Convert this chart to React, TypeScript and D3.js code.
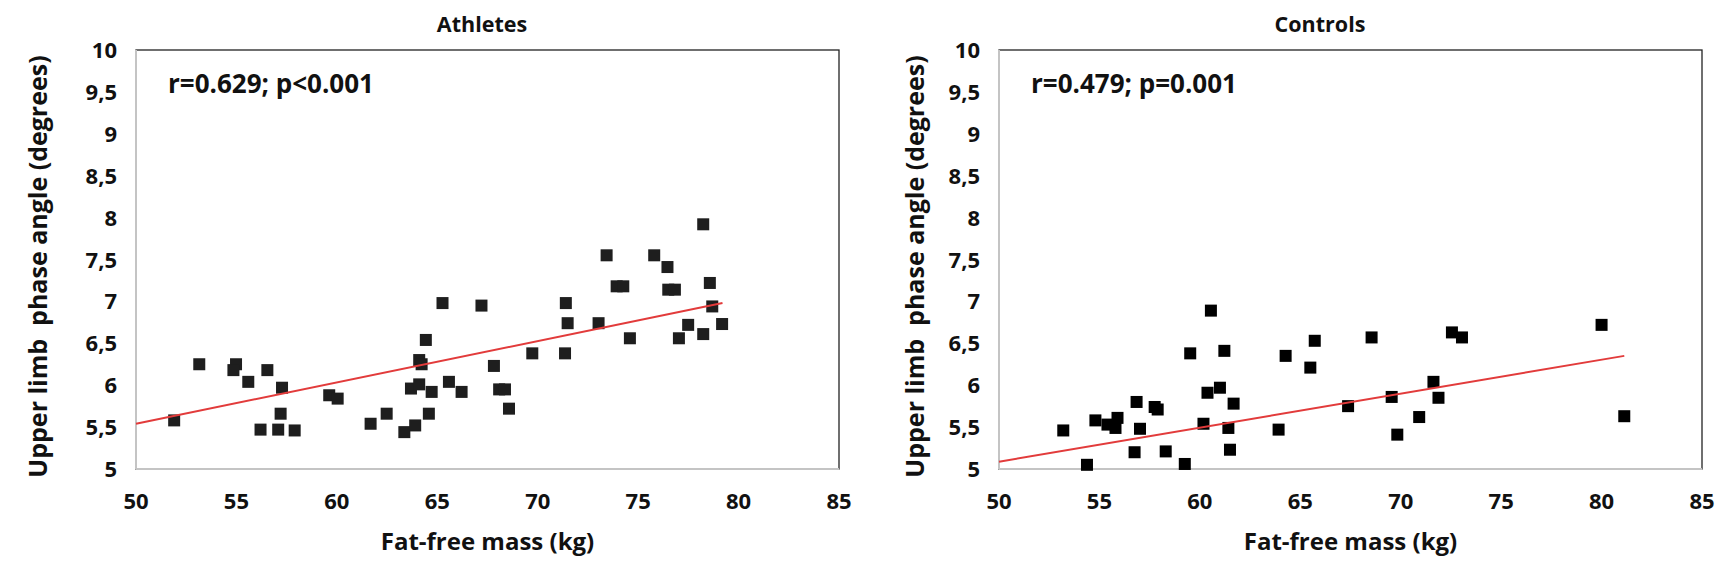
import { useMemo } from "react";
import * as d3 from "d3";

// values
const athletesFfm = [
  51.9, 53.15, 54.98, 54.85, 55.59, 56.54, 57.27, 57.2, 56.2, 57.08, 57.9, 59.62, 60.04,
  61.68, 62.48, 63.36, 63.9, 63.69, 64.1, 64.72, 64.58, 64.1, 64.22, 64.43, 65.26, 65.58,
  66.21, 67.2, 67.82, 68.08, 68.37, 68.57, 69.73, 71.36, 71.4, 71.49, 73.03, 73.43, 73.93,
  74.26, 74.59, 75.8, 76.46, 76.5, 76.83, 77.03, 77.49, 78.24, 78.57, 78.69, 78.24, 79.18,
];
const athletesPhase = [
  5.58, 6.25, 6.25, 6.18, 6.04, 6.18, 5.97, 5.66, 5.47, 5.47, 5.46, 5.88, 5.84,
  5.54, 5.66, 5.44, 5.52, 5.96, 6.01, 5.92, 5.66, 6.3, 6.25, 6.54, 6.98, 6.04,
  5.92, 6.95, 6.23, 5.95, 5.95, 5.72, 6.38, 6.38, 6.98, 6.74, 6.74, 7.55, 7.18,
  7.18, 6.56, 7.55, 7.41, 7.14, 7.14, 6.56, 6.72, 7.92, 7.22, 6.94, 6.61, 6.73,
];
const athletesTrend: [number, number][] = [
  [50, 5.54],
  [79.2, 6.98],
];

const controlsFfm = [
  53.2, 54.38, 54.8, 55.4, 55.9, 55.8, 56.85, 57.02, 56.75, 57.75, 57.9, 58.3, 59.25,
  59.52, 60.18, 60.38, 60.55, 61.0, 61.22, 61.68, 61.42, 61.5, 63.92, 64.27, 65.72, 65.5,
  67.38, 68.55, 69.55, 69.83, 70.92, 71.63, 71.88, 72.55, 73.05, 80.0, 81.13,
];
const controlsPhase = [
  5.46, 5.05, 5.58, 5.53, 5.61, 5.49, 5.8, 5.48, 5.2, 5.74, 5.71, 5.21, 5.06,
  6.38, 5.54, 5.91, 6.89, 5.97, 6.41, 5.78, 5.49, 5.23, 5.47, 6.35, 6.53, 6.21,
  5.75, 6.57, 5.86, 5.41, 5.62, 6.04, 5.85, 6.63, 6.57, 6.72, 5.63,
];
const controlsTrend: [number, number][] = [
  [50, 5.087],
  [81.13, 6.35],
];

const xTicks = [50, 55, 60, 65, 70, 75, 80, 85];
const yTicks = [5, 5.5, 6, 6.5, 7, 7.5, 8, 8.5, 9, 9.5, 10];

const fmt = d3.formatLocale({ decimal: ",", thousands: ".", grouping: [3], currency: ["", ""] }).format("~g");

const FONT = "'Open Sans', sans-serif";
const TOP = 50;
const BOTTOM = 469;
const PLOT_W = 703;

type PanelProps = {
  left: number;
  title: string;
  titleX: number;
  yTitleX: number;
  note: string;
  xs: number[];
  ys: number[];
  trend: [number, number][];
  fill: string;
};

function Panel({ left, title, titleX, yTitleX, note, xs, ys, trend, fill }: PanelProps) {
  const x = useMemo(() => d3.scaleLinear().domain([50, 85]).range([left, left + PLOT_W]), [left]);
  const y = d3.scaleLinear().domain([5, 10]).range([BOTTOM, TOP]);
  const line = d3
    .line<[number, number]>()
    .x((d) => x(d[0]))
    .y((d) => y(d[1]));
  const size = 12;

  return (
    <g fontFamily={FONT} fontWeight={700} fill="#111">
      <text x={titleX} y={32} fontSize={21.5} textAnchor="middle">
        {title}
      </text>
      <rect x={left} y={TOP} width={PLOT_W} height={BOTTOM - TOP} fill="#fff" stroke="#222" strokeWidth={1.3} />
      <line x1={left} x2={left} y1={TOP} y2={BOTTOM} stroke="#c4c4c4" strokeWidth={2} />
      <line x1={left} x2={left + PLOT_W} y1={BOTTOM} y2={BOTTOM} stroke="#c4c4c4" strokeWidth={2} />

      {yTicks.map((t) => (
        <text key={t} x={left - 19} y={y(t) + 8} fontSize={22} textAnchor="end">
          {fmt(t)}
        </text>
      ))}
      {xTicks.map((t) => (
        <text key={t} x={x(t)} y={509} fontSize={22} textAnchor="middle">
          {t}
        </text>
      ))}

      <text x={left + PLOT_W / 2} y={550} fontSize={24} textAnchor="middle">
        Fat-free mass (kg)
      </text>
      <text
        transform={`translate(${yTitleX},${(TOP + BOTTOM) / 2 + 7}) rotate(-90)`}
        fontSize={25}
        textAnchor="middle"
        style={{ whiteSpace: "pre" }}
      >
        {"Upper limb  phase angle (degrees)"}
      </text>

      <text x={left + 32} y={93} fontSize={26}>
        {note}
      </text>

      {xs.map((v, i) => (
        <rect
          key={i}
          x={x(v) - size / 2}
          y={y(ys[i]) - size / 2}
          width={size}
          height={size}
          fill={fill}
        />
      ))}

      <path d={line(trend) ?? ""} fill="none" stroke="#e23b3b" strokeWidth={2} />
    </g>
  );
}

export default function App() {
  return (
    <>
      <style>{`body{margin:0;background:#fff}`}</style>
      <svg width={1725} height={570} style={{ display: "block" }}>
        <rect width={1725} height={570} fill="#fff" />
        <Panel
          left={136}
          title="Athletes"
          titleX={482}
          yTitleX={47}
          note="r=0.629; p<0.001"
          xs={athletesFfm}
          ys={athletesPhase}
          trend={athletesTrend}
          fill="#1e1e1e"
        />
        <Panel
          left={999}
          title="Controls"
          titleX={1320}
          yTitleX={924}
          note="r=0.479; p=0.001"
          xs={controlsFfm}
          ys={controlsPhase}
          trend={controlsTrend}
          fill="#000"
        />
      </svg>
    </>
  );
}
